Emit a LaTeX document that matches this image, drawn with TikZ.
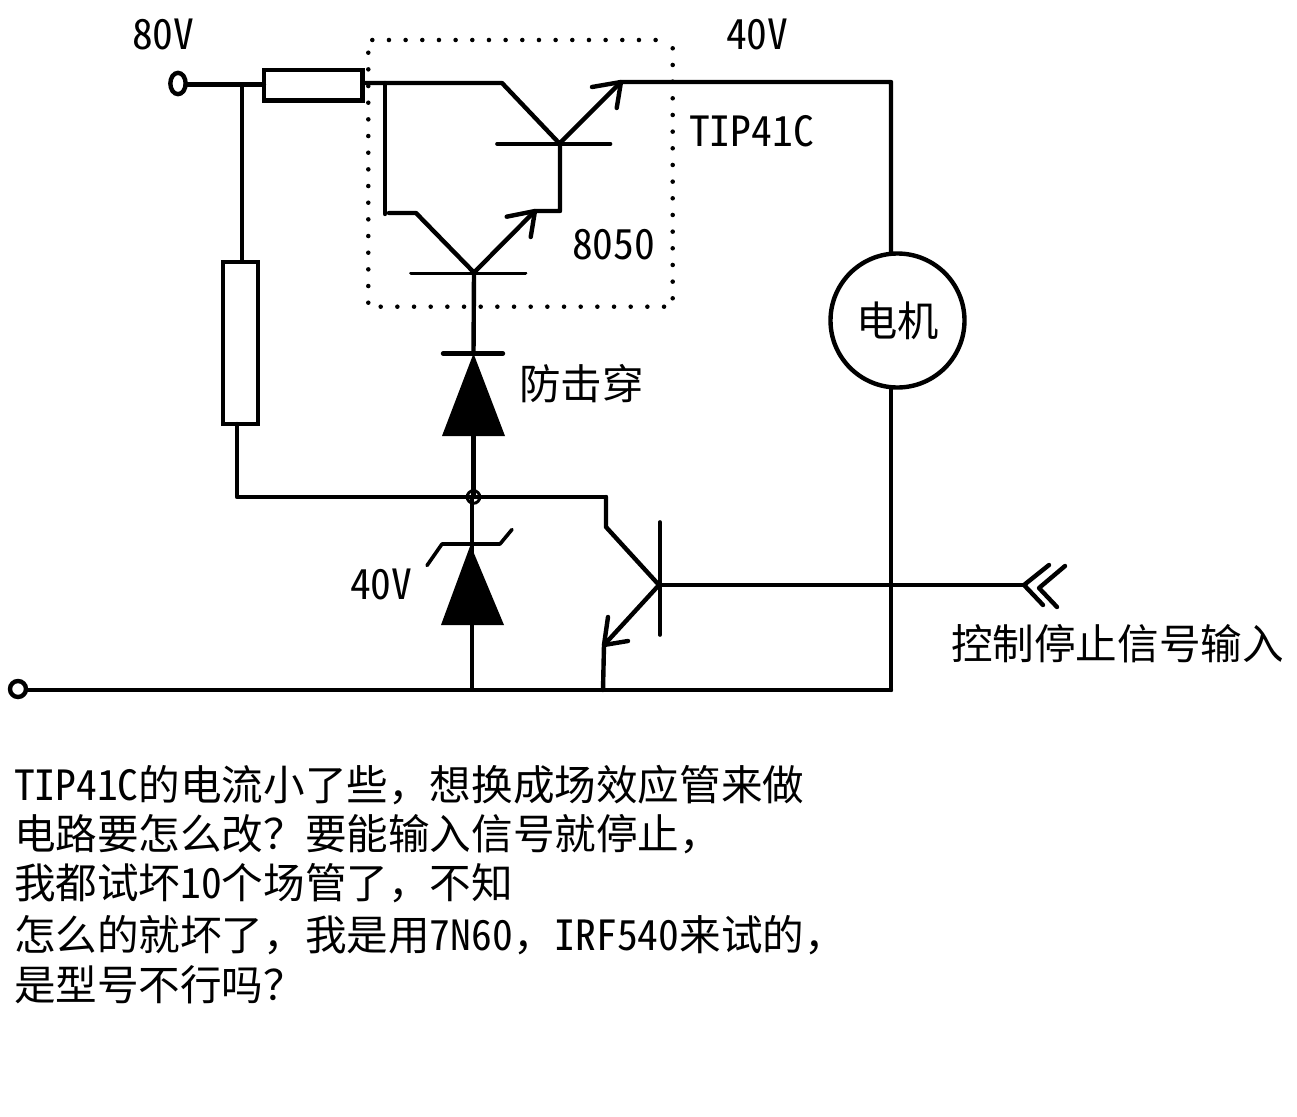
\documentclass[tikz,border=0pt]{standalone}
\usepackage{fontspec}
\usetikzlibrary{shapes.geometric}
\setmainfont{Noto Sans CJK SC}[RawFeature=+hwid]
\newfontfamily\fullw{Noto Sans CJK SC}
\newcommand{\qcomma}{{\fullw ，}}
\newcommand{\qmark}{{\fullw ？}}
\tikzset{
  wire/.style={line width=3.3pt,line cap=round,line join=round},
  thin wire/.style={line width=2.7pt,line cap=round,line join=round},
  res/.style={draw,line width=3.3pt,rectangle,inner sep=0pt,outer sep=0pt,fill=white},
  txt/.style={inner sep=0pt,outer sep=0pt,anchor=base west,font=\fontsize{31.2pt}{31.2pt}\selectfont},
  dots/.style={line width=3.4pt,line cap=round,dash pattern=on 0pt off 12.5pt},
}
\begin{document}
\begin{tikzpicture}[x=0.75pt,y=-0.75pt]
\useasboundingbox (0,0) rectangle (1297,1117);
% dotted enclosure
\coordinate (dtl) at (372.3,40);   \coordinate (dtr) at (656.5,40);
\coordinate (drt) at (672.7,48.3); \coordinate (drb) at (672.7,298.5);
\coordinate (dbl) at (380.7,306.7);\coordinate (dbr) at (664.5,306.7);
\coordinate (dlt) at (368.3,52.7); \coordinate (dlb) at (368.3,303);
\draw[dots] (dtl)--(dtr);
\draw[dots] (drt)--(drb);
\draw[dots] (dbl)--(dbr);
\draw[dots] (dlt)--(dlb);
% junction and key points
\coordinate (tapA) at (242,84.3);
\coordinate (nodeC) at (385,83);
\coordinate (t1c) at (502,83);
\coordinate (t1j) at (559.5,143.5);
\coordinate (t1e) at (621,82);
\coordinate (corner) at (891,82);
\coordinate (mTop) at (891,252);
\coordinate (mBot) at (891,389);
\coordinate (gndR) at (891,690);
\coordinate (gndL) at (27,690);
\coordinate (t1bL) at (497,144); \coordinate (t1bR) at (610.5,144); \coordinate (t1b) at (560,144);
\coordinate (t2e1) at (560,211);
\coordinate (t2e) at (535,211);
\coordinate (t2j) at (474,272.5);
\coordinate (t2bL) at (411,273.3); \coordinate (t2bR) at (525.5,273.3);
\coordinate (t2cV) at (385,214);
\coordinate (t2c0) at (389,213);
\coordinate (t2c) at (416,213);
\coordinate (dBarL) at (443,353.5); \coordinate (dBarR) at (503,353.5);
\coordinate (t2b) at (474,273.3);
\coordinate (dTop) at (473.5,353.5);
\coordinate (dBase) at (473.5,436);
\coordinate (j) at (473.5,497);
\coordinate (busL) at (237,497);
\coordinate (r2b) at (237,424);
\coordinate (t3cTop) at (606,497);
\coordinate (t3c) at (606,527);
\coordinate (t3j) at (659,585);
\coordinate (t3bT) at (660,522); \coordinate (t3bB) at (660,635);
\coordinate (t3e) at (604,645);
\coordinate (t3g) at (603,690);
\coordinate (sig) at (1024,585);
\coordinate (zg) at (472,690);
\coordinate (zt) at (472,497);
% circles and terminals
\node[draw,line width=3.3pt,ellipse,minimum width=11.5pt,minimum height=16pt,inner sep=0pt,outer sep=0pt] (termA) at (178,83.5) {};
\node[draw,line width=3.3pt,circle,minimum size=12pt,inner sep=0pt,outer sep=0pt] (termB) at (18,689) {};
% wires
\draw[wire] (termA.east|-tapA)--(tapA);
\node[res,minimum width=74pt,minimum height=23pt] (r1) at (313.3,85.3) {};
\node[res,minimum width=26pt,minimum height=121.5pt] (r2) at (240.5,343) {};
\draw[wire] (tapA)--(r1.west|-tapA);
\draw[thin wire] (tapA)--(tapA|-r2.north);
\draw[wire] (r1.east|-t1c)--(t1c)--(t1j)--(t1e)--(corner)--(mTop);
\draw[wire] (nodeC)--(t2cV);
\draw[thin wire] (t1bL)--(t1bR);
\draw[wire] (t1b)--(t2e1)--(t2e)--(t2j);
\draw[wire] (t2c0)--(t2c)--(t2j);
\draw[thin wire] (t2bL)--(t2bR);
\coordinate (a1a) at (592,87); \coordinate (a1b) at (616.7,108);
\draw[wire] (a1a)--(t1e)--(a1b);
\coordinate (a2a) at (506.7,216.7); \coordinate (a2b) at (530.7,237);
\draw[wire] (a2a)--(t2e)--(a2b);
\draw[wire] (t2b)--(dTop);
\draw[wire] (dBarL)--(dBarR);
\coordinate (dL) at (442,436); \coordinate (dR) at (505,436);
\fill[line join=round] (dTop)--(dR)--(dL)--cycle;
\draw[wire] (dBase)--(j);
\draw[wire] (r2.south-|r2b)--(r2b)--(busL)--(j);
\draw[thin wire] (j)--(t3cTop);
\draw[wire] (t3cTop)--(t3c)--(t3j);
\draw[thin wire] (t3bT)--(t3bB);
\draw[wire] (t3j)--(t3e)--(t3g);
\coordinate (a3a) at (608,617); \coordinate (a3b) at (628,641);
\draw[wire] (a3a)--(t3e)--(a3b);
\draw[wire] (t3j)--(sig);
\coordinate (c1a) at (1049,565); \coordinate (c1b) at (1043,605);
\coordinate (c2t) at (1065,566); \coordinate (c2m) at (1039,588); \coordinate (c2b) at (1057,607);
\draw[wire] (c1a)--(sig)--(c1b);
\draw[wire] (c2t)--(c2m)--(c2b);
\draw[thin wire] (zt)--(zg);
\coordinate (zApex) at (470.5,545); \coordinate (zL) at (441,625); \coordinate (zR) at (504,625);
\fill[line join=round] (zApex)--(zR)--(zL)--cycle;
\coordinate (z1) at (427,565.5); \coordinate (z2) at (442,544); \coordinate (z3) at (500,544); \coordinate (z4) at (512,529.5);
\draw[thin wire] (z1)--(z2)--(z3)--(z4);
\draw[wire] (termB.east|-gndL)--(gndR);
\node[draw,line width=3.3pt,circle,minimum size=100.5pt,inner sep=0pt,outer sep=0pt,fill=white,font=\fontsize{31pt}{31pt}\selectfont] (motor) at (897.5,320.5) {\raisebox{-1.5pt}{电机}};
\draw[wire] (mBot)--(gndR);
\node[draw,line width=2.2pt,circle,minimum size=9.5pt,inner sep=0pt,outer sep=0pt] (jdot) at (j) {};
% labels
\node[txt] (l80) at (132,49) {80V};
\node[txt] (l40a) at (726,49) {40V};
\node[txt] (ltip) at (689,146) {TIP41C};
\node[txt] (l8050) at (572,259) {8050};
\node[txt] (lfang) at (519,399) {防击穿};
\node[txt] (l40b) at (350,599) {40V};
\node[txt] (lctl) at (951,659) {控制停止信号输入};
\node[txt] (p1) at (14,800) {TIP41C的电流小了些\qcomma 想换成场效应管来做};
\node[txt] (p2) at (14,849) {电路要怎么改\qmark 要能输入信号就停止\qcomma};
\node[txt] (p3) at (14,898) {我都试坏10个场管了\qcomma 不知};
\node[txt] (p4) at (14,950) {怎么的就坏了\qcomma 我是用7N60\qcomma IRF540来试的\qcomma};
\node[txt] (p5) at (14,1000) {是型号不行吗\qmark};
\end{tikzpicture}
\end{document}
